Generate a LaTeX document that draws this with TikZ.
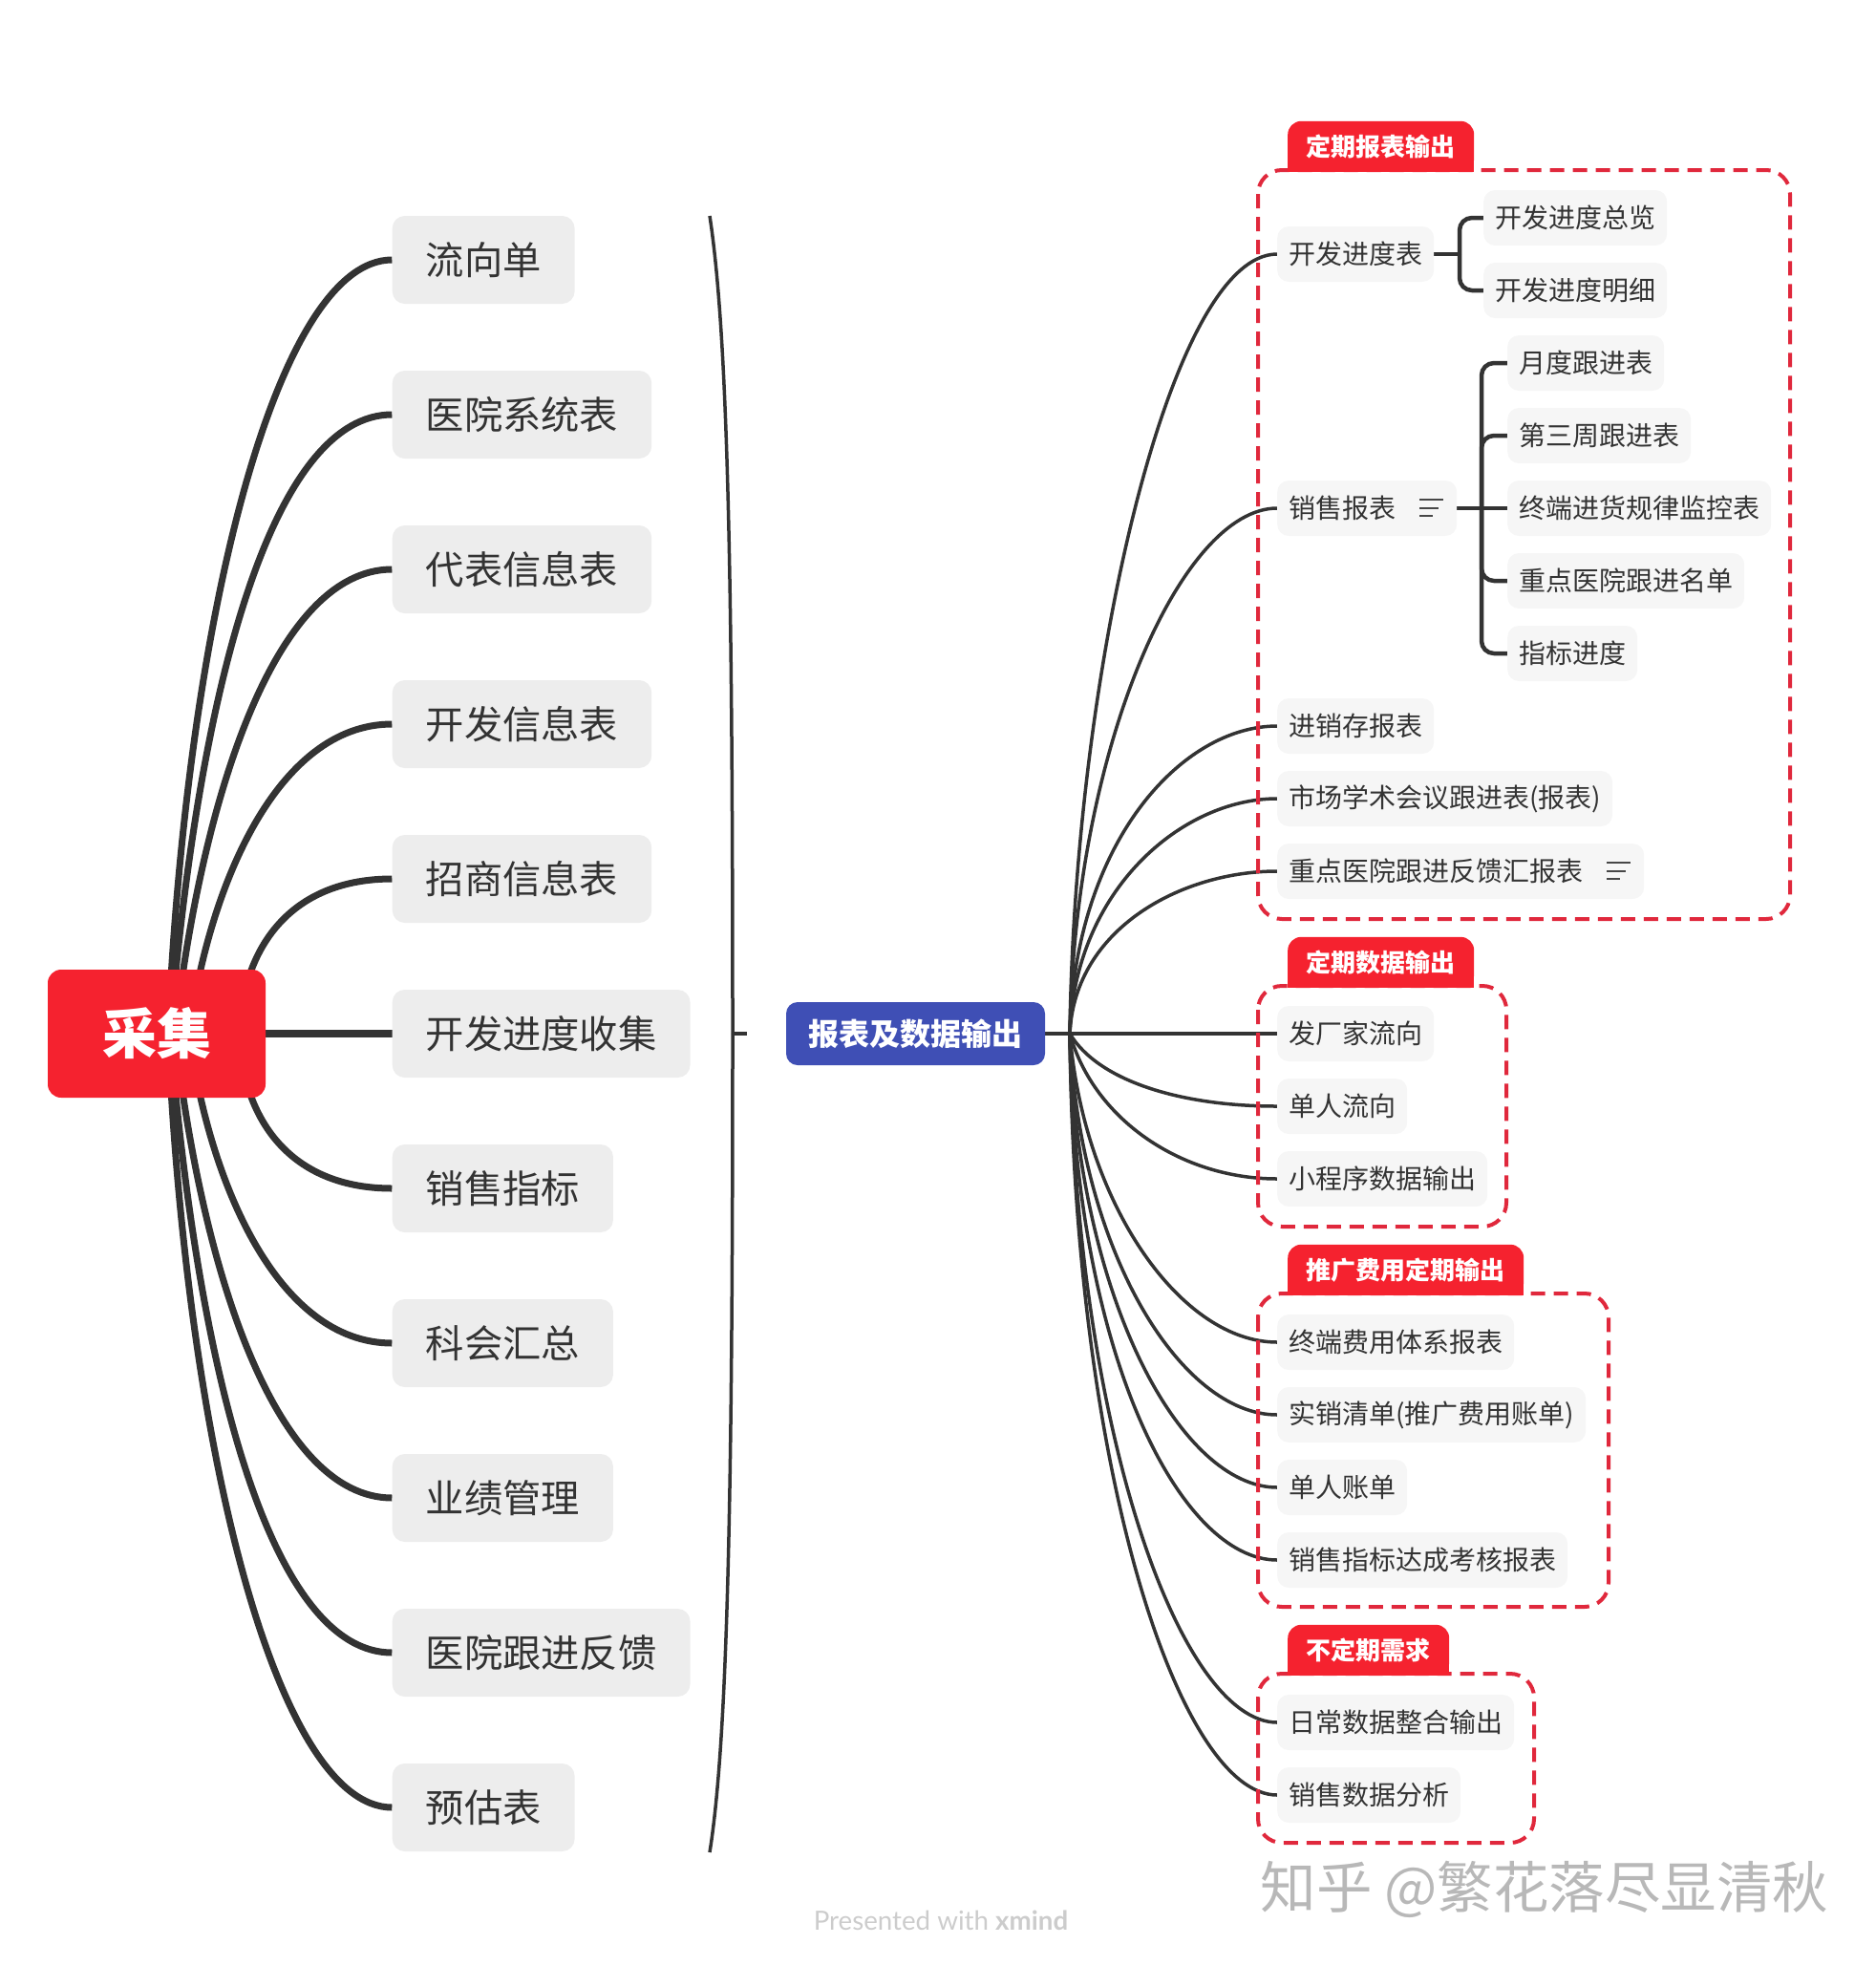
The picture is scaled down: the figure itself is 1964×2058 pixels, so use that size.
\documentclass[tikz,border=0pt]{standalone}
\usepackage{xcolor}
\usepackage{fontspec}
\setmainfont{Noto Sans CJK SC}
\newfontfamily\markfont{Lato}
\usetikzlibrary{backgrounds}
\definecolor{mapred}{HTML}{F5222F}
\definecolor{dashred}{HTML}{E0283C}
\definecolor{mapblue}{HTML}{3F4FB5}
\definecolor{ink}{HTML}{333333}
\tikzset{
  rootnode/.style={fill=mapred,text=white,rounded corners=14,minimum width=228,minimum height=134,font=\fontsize{57}{60}\selectfont\bfseries},
  subroot/.style={fill=mapblue,text=white,rounded corners=12,minimum width=271,minimum height=66,font=\fontsize{32}{36}\selectfont\bfseries},
  bigleaf/.style={anchor=west,fill=black!7,text=ink,rounded corners=13,inner xsep=35,inner ysep=0,minimum height=92,font=\fontsize{40.3}{44}\selectfont},
  smallleaf/.style={anchor=west,fill=black!3.5,text=ink,rounded corners=12,inner xsep=12,inner ysep=0,minimum height=58,font=\fontsize{28}{32}\selectfont},
  tabnode/.style={anchor=south west,fill=mapred,text=white,rounded corners=14,inner xsep=19.5,inner ysep=0,minimum height=53,font=\fontsize{26}{30}\selectfont\bfseries},
  dashbox/.style={draw=dashred,line width=4,rounded corners=25,dash pattern=on 15pt off 9pt},
  thickline/.style={draw=ink,line width=7},
  thinline/.style={draw=ink,line width=3.5},
  branchline/.style={draw=ink,line width=4.5,rounded corners=13},
  noteline/.style={draw=ink!90,line width=2}
}
\newcommand{\noteicon}[1]{
  \draw[noteline] ([xshift=-39,yshift=9]#1.east) -- ([xshift=-14,yshift=9]#1.east);
  \draw[noteline] ([xshift=-39]#1.east) -- ([xshift=-19]#1.east);
  \draw[noteline] ([xshift=-39,yshift=-8]#1.east) -- ([xshift=-25,yshift=-8]#1.east);
}
\begin{document}
\begin{tikzpicture}[x=1pt,y=-1pt]
  \useasboundingbox (0,0) rectangle (1964,2058);

  \node[rootnode] (root) at (164,1082) {采集};
  \node[bigleaf] (flow) at (410.5,272) {流向单};
  \node[bigleaf] (hospital) at (410.5,434) {医院系统表};
  \node[bigleaf] (rep) at (410.5,596) {代表信息表};
  \node[bigleaf] (dev) at (410.5,758) {开发信息表};
  \node[bigleaf] (invest) at (410.5,920) {招商信息表};
  \node[bigleaf] (progress) at (410.5,1082) {开发进度收集};
  \node[bigleaf] (target) at (410.5,1244) {销售指标};
  \node[bigleaf] (meeting) at (410.5,1406) {科会汇总};
  \node[bigleaf] (perf) at (410.5,1568) {业绩管理};
  \node[bigleaf] (followup) at (410.5,1730) {医院跟进反馈};
  \node[bigleaf] (forecast) at (410.5,1892) {预估表};

  \coordinate (bracetop) at (743,226);
  \coordinate (bracemid) at (767,1082);
  \coordinate (bracebot) at (743,1939);
  \coordinate (bracetip) at (782,1082);
  \node[subroot] (output) at (958.5,1082) {报表及数据输出};
  \coordinate (hubr) at (1120,1082);

  % dashed groups
  \draw[dashbox] (1317,178) rectangle (1874,962);
  \draw[dashbox] (1317,1032) rectangle (1577,1284);
  \draw[dashbox] (1317,1354) rectangle (1684,1682);
  \draw[dashbox] (1317,1752) rectangle (1606,1929);

  \node[tabnode] (tabreport) at (1348,180) {定期报表输出};
  \fill[mapred] (tabreport.south west) rectangle ([yshift=14]tabreport.south east);
  \node[tabnode] (tabdata) at (1348,1034) {定期数据输出};
  \fill[mapred] (tabdata.south west) rectangle ([yshift=14]tabdata.south east);
  \node[tabnode] (tabcost) at (1348,1356) {推广费用定期输出};
  \fill[mapred] (tabcost.south west) rectangle ([yshift=14]tabcost.south east);
  \node[tabnode] (tabneed) at (1348,1754) {不定期需求};
  \fill[mapred] (tabneed.south west) rectangle ([yshift=14]tabneed.south east);

  \node[smallleaf] (devrep) at (1337,266) {开发进度表};
  \node[smallleaf] (devall) at (1553,228) {开发进度总览};
  \node[smallleaf] (devdetail) at (1553,304) {开发进度明细};
  \node[smallleaf] (salesrep) at (1337,532) {销售报表\hspace*{52pt}};
  \node[smallleaf] (monthly) at (1578,380) {月度跟进表};
  \node[smallleaf] (week) at (1578,456) {第三周跟进表};
  \node[smallleaf] (terminal) at (1578,532) {终端进货规律监控表};
  \node[smallleaf] (keyhosp) at (1578,608) {重点医院跟进名单};
  \node[smallleaf] (index) at (1578,684) {指标进度};
  \node[smallleaf] (stock) at (1337,760) {进销存报表};
  \node[smallleaf] (academic) at (1337,836) {市场学术会议跟进表(报表)};
  \node[smallleaf] (feedback) at (1337,912) {重点医院跟进反馈汇报表\hspace*{52pt}};
  \node[smallleaf] (factory) at (1337,1082) {发厂家流向};
  \node[smallleaf] (single) at (1337,1158) {单人流向};
  \node[smallleaf] (miniapp) at (1337,1234) {小程序数据输出};
  \node[smallleaf] (costsys) at (1337,1405) {终端费用体系报表};
  \node[smallleaf] (writeoff) at (1337,1481) {实销清单(推广费用账单)};
  \node[smallleaf] (singlebill) at (1337,1557) {单人账单};
  \node[smallleaf] (assess) at (1337,1633) {销售指标达成考核报表};
  \node[smallleaf] (daily) at (1337,1803) {日常数据整合输出};
  \node[smallleaf] (analysis) at (1337,1879) {销售数据分析};

  \noteicon{salesrep}
  \noteicon{feedback}

  \coordinate (devbus) at (1528,266);
  \coordinate (salesbus) at (1551,532);

  \begin{scope}[on background layer]
    \draw[thickline] ([xshift=12]root.center) .. controls +(19,-432) and +(-121,0) .. (flow.west);
    \draw[thickline] ([xshift=14]root.center) .. controls +(32,-382) and +(-121,0) .. (hospital.west);
    \draw[thickline] ([xshift=19]root.center) .. controls +(29,-252) and +(-121,0) .. (rep.west);
    \draw[thickline] ([xshift=34]root.center) .. controls +(20,-152) and +(-121,0) .. (dev.west);
    \draw[thickline] ([xshift=86]root.center) .. controls +(5,-97) and +(-101,0) .. (invest.west);
    \draw[thickline,line width=8] (root.east) -- (progress.west);
    \draw[thickline] ([xshift=86]root.center) .. controls +(5,97) and +(-101,0) .. (target.west);
    \draw[thickline] ([xshift=34]root.center) .. controls +(20,152) and +(-121,0) .. (meeting.west);
    \draw[thickline] ([xshift=19]root.center) .. controls +(29,252) and +(-121,0) .. (perf.west);
    \draw[thickline] ([xshift=14]root.center) .. controls +(32,382) and +(-121,0) .. (followup.west);
    \draw[thickline] ([xshift=12]root.center) .. controls +(19,432) and +(-121,0) .. (forecast.west);

    \draw[thinline] (bracetop) .. controls (762,350) and (767,600) .. (bracemid);
    \draw[thinline] (bracemid) .. controls (767,1560) and (762,1820) .. (bracebot);
    \draw[thinline,line width=4] (bracemid) -- (bracetip);

    \draw[thinline,line width=4] (output.east) -- (factory.west);
    \draw[thinline] (hubr) .. controls +(5,-380) and +(-112,0) .. (devrep.west);
    \draw[thinline] (hubr) .. controls +(5,-300) and +(-100,0) .. (salesrep.west);
    \draw[thinline] (hubr) .. controls +(5,-200) and +(-100,0) .. (stock.west);
    \draw[thinline] (hubr) .. controls +(5,-150) and +(-100,0) .. (academic.west);
    \draw[thinline] (hubr) .. controls +(5,-110) and +(-100,0) .. (feedback.west);
    \draw[thinline] (hubr) .. controls +(30,50) and +(-100,0) .. (single.west);
    \draw[thinline] (hubr) .. controls +(25,90) and +(-100,0) .. (miniapp.west);
    \draw[thinline] (hubr) .. controls +(15,180) and +(-100,0) .. (costsys.west);
    \draw[thinline] (hubr) .. controls +(10,230) and +(-100,0) .. (writeoff.west);
    \draw[thinline] (hubr) .. controls +(8,280) and +(-100,0) .. (singlebill.west);
    \draw[thinline] (hubr) .. controls +(5,340) and +(-100,0) .. (assess.west);
    \draw[thinline] (hubr) .. controls +(5,420) and +(-100,0) .. (daily.west);
    \draw[thinline] (hubr) .. controls +(5,470) and +(-100,0) .. (analysis.west);

    \draw[branchline] (devrep.east) -- (devbus);
    \draw[branchline] (devbus) |- (devall.west);
    \draw[branchline] (devbus) |- (devdetail.west);
    \draw[branchline] (salesrep.east) -- (terminal.west);
    \draw[branchline] (salesbus) |- (monthly.west);
    \draw[branchline] (salesbus) |- (week.west);
    \draw[branchline] (salesbus) |- (keyhosp.west);
    \draw[branchline] (salesbus) |- (index.west);
  \end{scope}

  \node[text=black!28,font=\fontsize{58.5}{62}\selectfont] (mark) at (1617,1978) {知乎 @繁花落尽显清秋};
  \node[text=black!20,font=\fontsize{27.7}{30}\selectfont\markfont] (presented) at (985,2010) {Presented with \textbf{xmind}};
\end{tikzpicture}
\end{document}
